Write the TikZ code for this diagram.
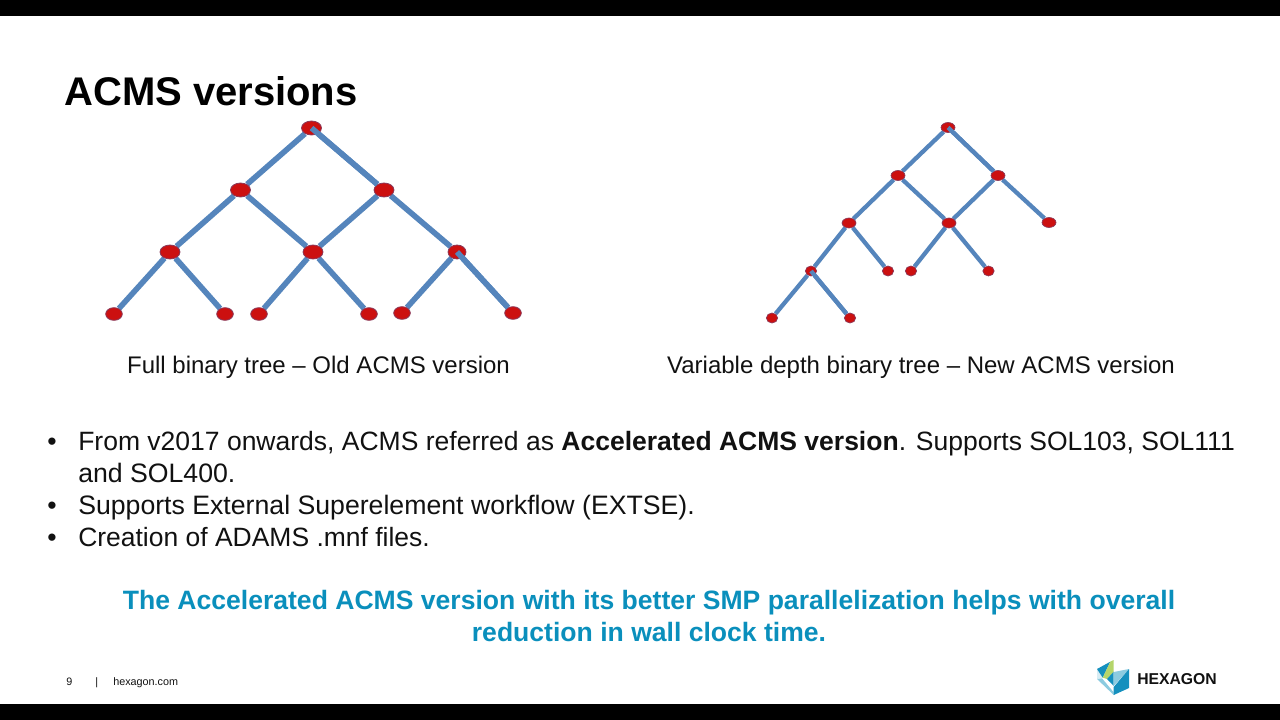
\documentclass[tikz,border=0pt]{standalone}
\usepackage{fontspec}
\setmainfont{Liberation Sans}
\usetikzlibrary{shapes.geometric,backgrounds}
\definecolor{edgeblue}{HTML}{5585BC}
\definecolor{nodered}{HTML}{CC1010}
\definecolor{noderim}{HTML}{8A3A5A}
\definecolor{teal}{HTML}{0A8FBC}
\definecolor{lgreen}{HTML}{B5D56A}
\definecolor{lblue}{HTML}{8CCBE0}
\definecolor{dblue}{HTML}{1590BE}
\definecolor{ink}{HTML}{111111}
\tikzset{
  big/.style={ellipse,draw=noderim,line width=0.6pt,fill=nodered,minimum width=15pt,minimum height=10.5pt,inner sep=0pt},
  leafA/.style={ellipse,draw=noderim,line width=0.6pt,fill=nodered,minimum width=12.5pt,minimum height=9.5pt,inner sep=0pt},
  med/.style={ellipse,draw=noderim,line width=0.5pt,fill=nodered,minimum width=10.5pt,minimum height=7.5pt,inner sep=0pt},
  leafB/.style={ellipse,draw=noderim,line width=0.5pt,fill=nodered,minimum width=8.5pt,minimum height=7.5pt,inner sep=0pt},
  edgeA/.style={draw=edgeblue,line width=4.2pt},
  edgeB/.style={draw=edgeblue,line width=3.2pt},
  body/.style={anchor=base west,inner sep=0pt,font=\fontsize{20}{20}\selectfont,text=ink},
  captext/.style={anchor=base,inner sep=0pt,font=\fontsize{18}{18}\selectfont,text=ink},
  concl/.style={anchor=base,inner sep=0pt,font=\fontsize{19.92}{20}\selectfont\bfseries,text=teal},
  foot/.style={anchor=base west,inner sep=0pt,font=\fontsize{8.1}{8.1}\selectfont,text=ink},
}
\begin{document}
\begin{tikzpicture}[x=0.75pt,y=-0.75pt]
\useasboundingbox (0,0) rectangle (1280,720);
\fill[black] (0,0) rectangle (1280,16);
\fill[black] (0,704) rectangle (1280,720);
\node[anchor=base west,inner sep=0pt,font=\fontsize{30}{30}\selectfont\bfseries] (title) at (64,106) {ACMS versions};
% left tree
\node[big] (a0) at (311.5,128) {};
\node[big] (a1) at (240.5,190) {};
\node[big] (a2) at (384,190) {};
\node[big] (a3) at (170,252) {};
\node[big] (a4) at (313,252) {};
\node[big,minimum width=13.5pt] (a5) at (457,252) {};
\node[leafA] (a6) at (114,314) {};
\node[leafA] (a7) at (225,314) {};
\node[leafA] (a8) at (259,314) {};
\node[leafA] (a9) at (369,314) {};
\node[leafA] (a10) at (402,313) {};
\node[leafA] (a11) at (513,313) {};
\begin{pgfonlayer}{background}
\foreach \p/\c in {a0/a1,a1/a3,a1/a4,a2/a4,a2/a5,a0/a2,a3/a6,a3/a7,a4/a8,a4/a9,a5/a10,a5/a11}{\draw[edgeA] (\p) -- (\c);}
\end{pgfonlayer}
\draw[edgeA] (a0.center) -- (a2);
\draw[edgeA] (a5.center) -- (a11);
% right tree
\node[med] (b0) at (948,127.5) {};
\node[med] (b1) at (898,175.5) {};
\node[med] (b2) at (998,175.5) {};
\node[med] (b3) at (849,223) {};
\node[med] (b4) at (949,223) {};
\node[med] (b5) at (1049,222.5) {};
\node[leafB] (b6) at (811,271) {};
\node[leafB] (b7) at (888,271) {};
\node[leafB] (b8) at (911,271) {};
\node[leafB] (b9) at (988.5,271) {};
\node[leafB] (b10) at (772,318) {};
\node[leafB] (b11) at (850,318) {};
\begin{pgfonlayer}{background}
\foreach \p/\c in {b0/b1,b0/b2,b1/b3,b1/b4,b2/b4,b2/b5,b3/b6,b3/b7,b4/b8,b4/b9,b6/b10,b6/b11}{\draw[edgeB] (\p) -- (\c);}
\end{pgfonlayer}
\draw[edgeB] (b0.center) -- (b2);
\draw[edgeB] (b6.center) -- (b11);
% captions
\node[captext] (c1) at (318.5,373) {Full binary tree – Old ACMS version};
\node[captext] (c2) at (921,373) {Variable depth binary tree – New ACMS version};
% bullets
\node[body] (d1) at (47,450) {•};
\node[body,font=\fontsize{19.88}{20}\selectfont] (t1) at (78,450) {From v2017 onwards, ACMS referred as \textbf{Accelerated ACMS version}. Supports SOL103, SOL111};
\node[body] (t1b) at (78,482) {and SOL400.};
\node[body] (d2) at (47,514) {•};
\node[body] (t2) at (78,514) {Supports External Superelement workflow (EXTSE).};
\node[body] (d3) at (47,546) {•};
\node[body,font=\fontsize{19.85}{20}\selectfont] (t3) at (78,546) {Creation of ADAMS .mnf files.};
\node[concl] (k1) at (649,609) {The Accelerated ACMS version with its better SMP parallelization helps with overall};
\node[concl] (k2) at (649,641) {reduction in wall clock time.};
% footer
\node[foot] (f1) at (66,685) {9};
\node[foot] (f2) at (95,685) {|};
\node[foot] (f3) at (113,685) {hexagon.com};
% logo
\fill[lblue!35] (1097,669) -- (1102.7,677.7) -- (1097,679) -- cycle;
\fill[dblue] (1097,669) -- (1110.3,661.7) -- (1102.7,677.7) -- cycle;
\fill[lgreen] (1110.3,661.7) -- (1113.7,660) -- (1113.7,672) -- (1107,679) -- (1102.7,677.7) -- cycle;
\fill[lblue] (1097,679) -- (1102,678.3) -- (1113.7,692.3) -- (1113.7,695) -- cycle;
\fill[dblue] (1107,679) -- (1113.7,671.7) -- (1113.7,686) -- cycle;
\fill[lblue] (1113.7,672) -- (1129,669) -- (1113.7,686) -- cycle;
\fill[dblue] (1129,669) -- (1129,688) -- (1113.7,695) -- (1113.7,687) -- cycle;
\node[anchor=base west,inner sep=0pt,font=\fontsize{11.8}{11.8}\selectfont\bfseries,text=ink] (logo) at (1137,684) {HEXAGON};
\end{tikzpicture}
\end{document}
